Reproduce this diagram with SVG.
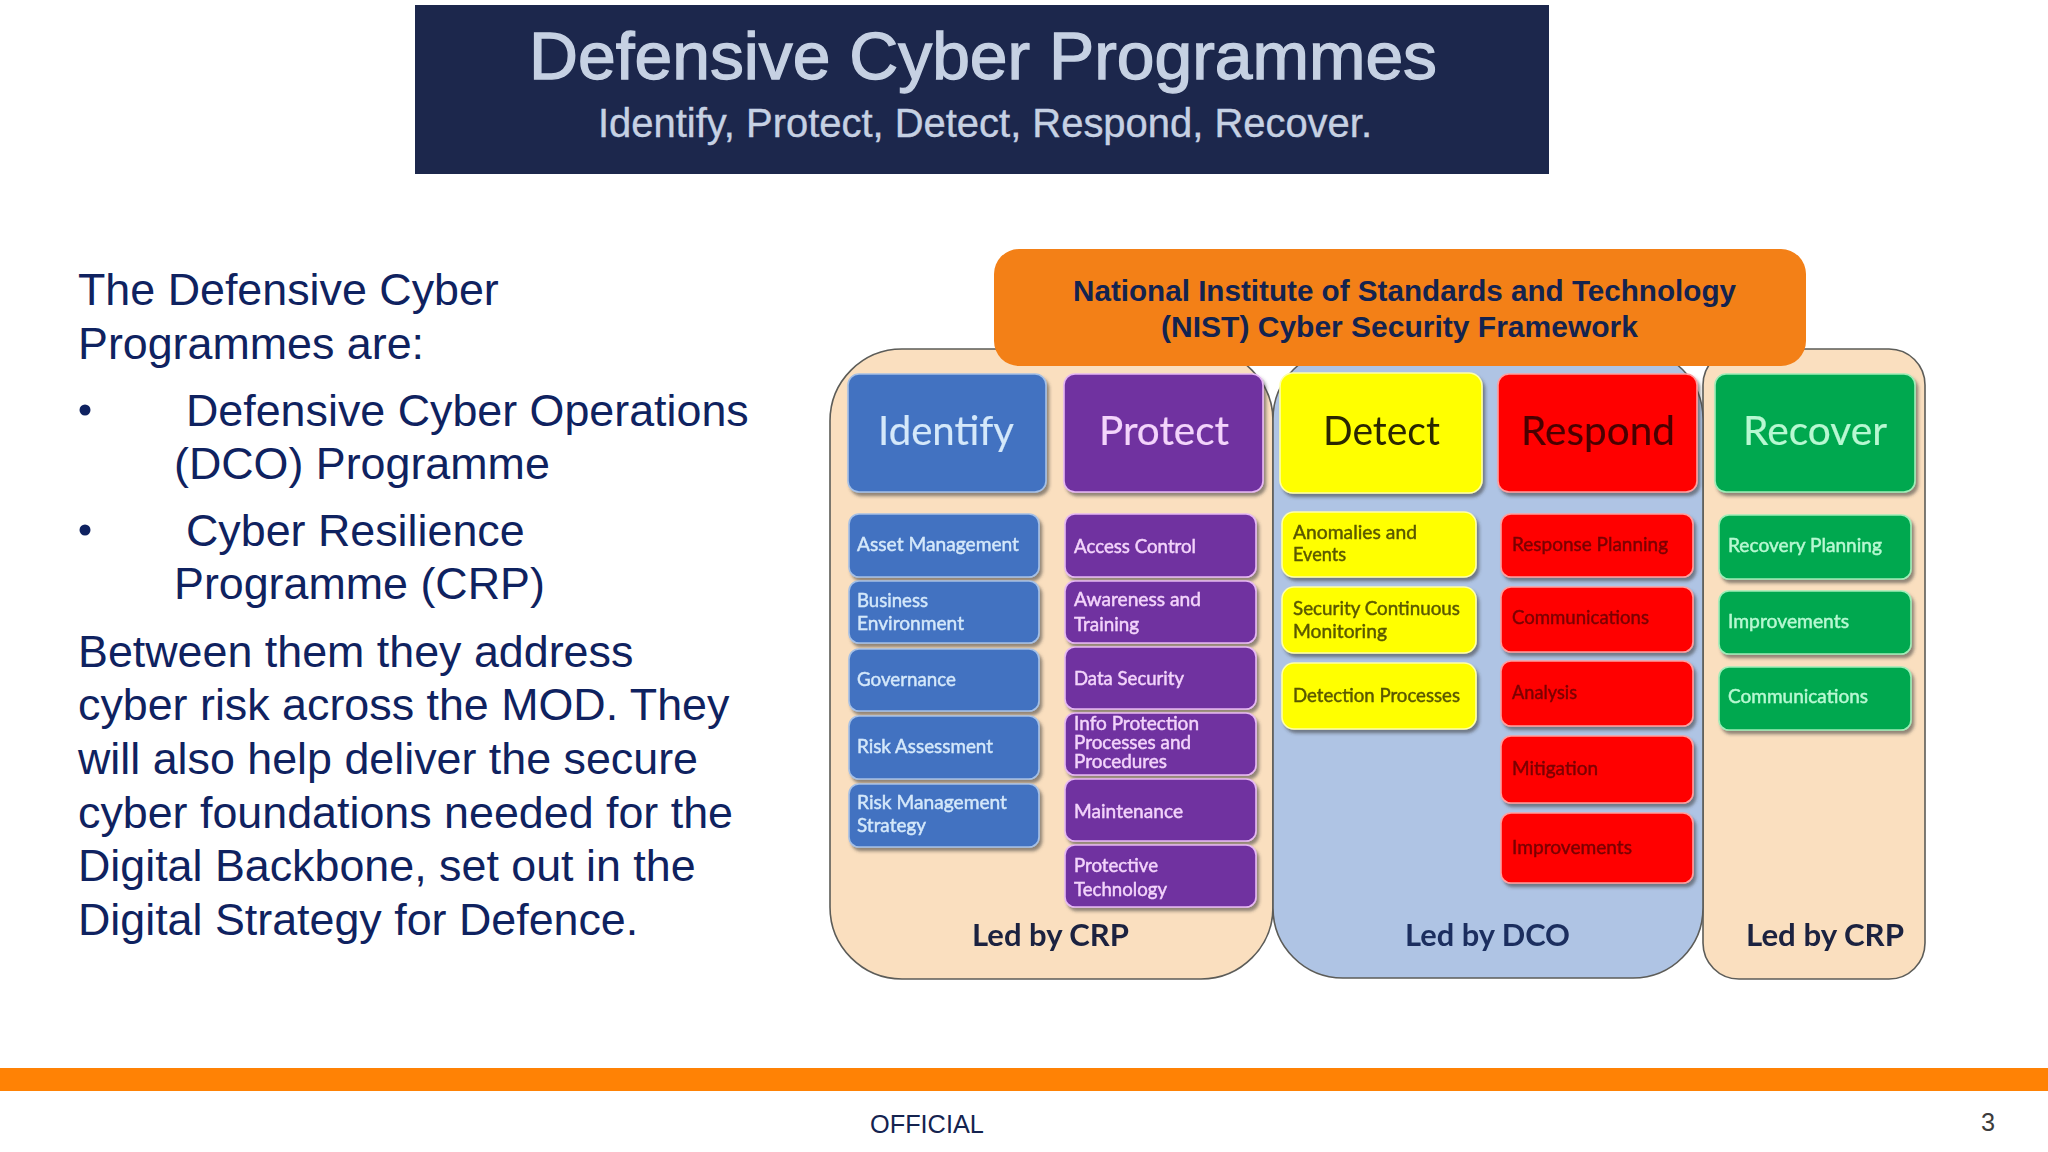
<svg xmlns="http://www.w3.org/2000/svg" width="2048" height="1152" viewBox="0 0 2048 1152">
<defs>
<filter id="sh" x="-10%" y="-10%" width="125%" height="125%"><feDropShadow dx="2.5" dy="3.5" stdDeviation="1.6" flood-color="#3a3a3a" flood-opacity="0.55"/></filter>
<filter id="soft" x="-5%" y="-20%" width="110%" height="140%"><feGaussianBlur stdDeviation="0.45"/></filter>
</defs>
<style>
.s{font-family:"Liberation Sans",Arial,sans-serif}
.body{font-size:44.8px;fill:#0F2260}
.l{font-family:Lato,"Open Sans",sans-serif;filter:url(#soft);stroke-width:0.15}
.h{font-size:40px}
.i{font-size:19px}
.led{font-size:30px;font-weight:700;fill:#1A2440}
.panel{stroke:#5C5C58;stroke-width:1.6}
.pe{fill:#FADFBF}
.bl{fill:#AFC4E4}
.box{filter:url(#sh);stroke-width:1.6}
.b .box{fill:#4272C1;stroke:#A5C0E6}.b text{fill:#D4E8FA;stroke:#D4E8FA}
.p .box{fill:#7030A0;stroke:#E6B8F4}.p text{fill:#F3D4FB;stroke:#F3D4FB}
.y .box{fill:#FFFF00;stroke:#FFFFA8}.y text{fill:#2A2800}.y .i{fill:#5A5800;stroke:#5A5800}
.r .box{fill:#FF0000;stroke:#FF9E9E}.r text{fill:#4A0000;stroke:#4A0000}.r .i{fill:#7A0000;stroke:#7A0000}
.g .box{fill:#00A84F;stroke:#9FEDB8}.g text{fill:#B8F8D2;stroke:#B8F8D2}
.i{stroke-width:0.45}
</style>
<rect width="2048" height="1152" fill="#FFFFFF"/>
<g id="banner">
<rect x="415" y="5" width="1134" height="169" fill="#1C274C"/>
<text class="s" x="529" y="79" font-size="66" fill="#C6D1E3" stroke="#C6D1E3" stroke-width="1.3" textLength="908" lengthAdjust="spacingAndGlyphs">Defensive Cyber Programmes</text>
<text class="s" x="598" y="137" font-size="40" fill="#C6D1E3" stroke="#C6D1E3" stroke-width="0.4" textLength="774" lengthAdjust="spacingAndGlyphs">Identify, Protect, Detect, Respond, Recover.</text>
</g>
<g id="intro-text" class="s body">
<text x="78" y="305">The Defensive Cyber</text>
<text x="78" y="359">Programmes are:</text>
<circle cx="85" cy="410" r="5.5" fill="#0F2260"/>
<text x="186" y="426">Defensive Cyber Operations</text>
<text x="174" y="479">(DCO) Programme</text>
<circle cx="85" cy="530" r="5.5" fill="#0F2260"/>
<text x="186" y="546">Cyber Resilience</text>
<text x="174" y="599">Programme (CRP)</text>
<text x="78" y="667">Between them they address</text>
<text x="78" y="720">cyber risk across the MOD. They</text>
<text x="78" y="774">will also help deliver the secure</text>
<text x="78" y="828">cyber foundations needed for the</text>
<text x="78" y="881">Digital Backbone, set out in the</text>
<text x="78" y="935">Digital Strategy for Defence.</text>
</g>
<g id="panel-crp-left"><rect class="panel pe" x="830" y="349" width="443" height="630" rx="72" ry="72"/></g>
<g id="panel-crp-right"><rect class="panel pe" x="1703" y="349" width="222" height="630" rx="36" ry="36"/></g>
<g id="panel-dco"><rect class="panel bl" x="1273" y="349" width="430" height="629" rx="70" ry="70"/></g>
<g id="connectors"/>
<g id="col-identify" class="b">
<g id="identify"><rect class="box" x="848" y="374" width="198" height="118" rx="11"/><text class="l h" x="878" y="445" textLength="136" lengthAdjust="spacingAndGlyphs">Identify</text></g>
<g id="asset-management"><rect class="box" x="849" y="514" width="190" height="63" rx="10"/><text class="l i" x="857" y="551" textLength="162" lengthAdjust="spacingAndGlyphs">Asset Management</text></g>
<g id="business-environment"><rect class="box" x="849" y="581" width="190" height="62" rx="10"/><text class="l i" x="857" y="607" textLength="71" lengthAdjust="spacingAndGlyphs">Business</text><text class="l i" x="857" y="630" textLength="107" lengthAdjust="spacingAndGlyphs">Environment</text></g>
<g id="governance"><rect class="box" x="849" y="649" width="190" height="62" rx="10"/><text class="l i" x="857" y="686" textLength="99" lengthAdjust="spacingAndGlyphs">Governance</text></g>
<g id="risk-assessment"><rect class="box" x="849" y="716" width="190" height="63" rx="10"/><text class="l i" x="857" y="753" textLength="136" lengthAdjust="spacingAndGlyphs">Risk Assessment</text></g>
<g id="risk-management"><rect class="box" x="849" y="784" width="190" height="63" rx="10"/><text class="l i" x="857" y="809" textLength="150" lengthAdjust="spacingAndGlyphs">Risk Management</text><text class="l i" x="857" y="832" textLength="69" lengthAdjust="spacingAndGlyphs">Strategy</text></g>
</g>
<g id="col-protect" class="p">
<g id="protect"><rect class="box" x="1064" y="374" width="199" height="118" rx="11"/><text class="l h" x="1099" y="445" textLength="130" lengthAdjust="spacingAndGlyphs">Protect</text></g>
<g id="access-control"><rect class="box" x="1065" y="514" width="191" height="63" rx="10"/><text class="l i" x="1074" y="553" textLength="122" lengthAdjust="spacingAndGlyphs">Access Control</text></g>
<g id="awareness-training"><rect class="box" x="1065" y="581" width="191" height="62" rx="10"/><text class="l i" x="1074" y="606" textLength="127" lengthAdjust="spacingAndGlyphs">Awareness and</text><text class="l i" x="1074" y="631" textLength="65" lengthAdjust="spacingAndGlyphs">Training</text></g>
<g id="data-security"><rect class="box" x="1065" y="647" width="191" height="62" rx="10"/><text class="l i" x="1074" y="685" textLength="110" lengthAdjust="spacingAndGlyphs">Data Security</text></g>
<g id="info-protection"><rect class="box" x="1065" y="713" width="191" height="62" rx="10"/><text class="l i" x="1074" y="730" textLength="125" lengthAdjust="spacingAndGlyphs">Info Protection</text><text class="l i" x="1074" y="749" textLength="117" lengthAdjust="spacingAndGlyphs">Processes and</text><text class="l i" x="1074" y="768" textLength="93" lengthAdjust="spacingAndGlyphs">Procedures</text></g>
<g id="maintenance"><rect class="box" x="1065" y="779" width="191" height="62" rx="10"/><text class="l i" x="1074" y="818" textLength="109" lengthAdjust="spacingAndGlyphs">Maintenance</text></g>
<g id="protective-technology"><rect class="box" x="1065" y="845" width="191" height="62" rx="10"/><text class="l i" x="1074" y="872" textLength="84" lengthAdjust="spacingAndGlyphs">Protective</text><text class="l i" x="1074" y="896" textLength="93" lengthAdjust="spacingAndGlyphs">Technology</text></g>
</g>
<g id="col-detect" class="y">
<g id="detect"><rect class="box" x="1280" y="373" width="202" height="120" rx="13"/><text class="l h" x="1323" y="445" textLength="117" lengthAdjust="spacingAndGlyphs">Detect</text></g>
<g id="anomalies-events"><rect class="box" x="1282" y="512" width="194" height="65" rx="12"/><text class="l i" x="1293" y="539" textLength="124" lengthAdjust="spacingAndGlyphs">Anomalies and</text><text class="l i" x="1293" y="561" textLength="53" lengthAdjust="spacingAndGlyphs">Events</text></g>
<g id="security-monitoring"><rect class="box" x="1282" y="587" width="194" height="66" rx="12"/><text class="l i" x="1293" y="615" textLength="167" lengthAdjust="spacingAndGlyphs">Security Continuous</text><text class="l i" x="1293" y="638" textLength="94" lengthAdjust="spacingAndGlyphs">Monitoring</text></g>
<g id="detection-processes"><rect class="box" x="1282" y="663" width="194" height="66" rx="12"/><text class="l i" x="1293" y="702" textLength="167" lengthAdjust="spacingAndGlyphs">Detection Processes</text></g>
</g>
<g id="col-respond" class="r">
<g id="respond"><rect class="box" x="1498" y="374" width="199" height="118" rx="11"/><text class="l h" x="1521" y="445" textLength="154" lengthAdjust="spacingAndGlyphs">Respond</text></g>
<g id="response-planning"><rect class="box" x="1501" y="514" width="192" height="63" rx="10"/><text class="l i" x="1512" y="551" textLength="156" lengthAdjust="spacingAndGlyphs">Response Planning</text></g>
<g id="communications-r"><rect class="box" x="1501" y="587" width="192" height="65" rx="10"/><text class="l i" x="1512" y="624" textLength="137" lengthAdjust="spacingAndGlyphs">Communications</text></g>
<g id="analysis"><rect class="box" x="1501" y="661" width="192" height="65" rx="10"/><text class="l i" x="1512" y="699" textLength="65" lengthAdjust="spacingAndGlyphs">Analysis</text></g>
<g id="mitigation"><rect class="box" x="1501" y="736" width="192" height="67" rx="10"/><text class="l i" x="1512" y="775" textLength="86" lengthAdjust="spacingAndGlyphs">Mitigation</text></g>
<g id="improvements-r"><rect class="box" x="1501" y="813" width="192" height="70" rx="10"/><text class="l i" x="1512" y="854" textLength="120" lengthAdjust="spacingAndGlyphs">Improvements</text></g>
</g>
<g id="col-recover" class="g">
<g id="recover"><rect class="box" x="1715" y="374" width="200" height="118" rx="11"/><text class="l h" x="1743" y="445" textLength="144" lengthAdjust="spacingAndGlyphs">Recover</text></g>
<g id="recovery-planning"><rect class="box" x="1719" y="515" width="192" height="64" rx="10"/><text class="l i" x="1728" y="552" textLength="154" lengthAdjust="spacingAndGlyphs">Recovery Planning</text></g>
<g id="improvements-g"><rect class="box" x="1719" y="591" width="192" height="63" rx="10"/><text class="l i" x="1728" y="628" textLength="121" lengthAdjust="spacingAndGlyphs">Improvements</text></g>
<g id="communications-g"><rect class="box" x="1719" y="667" width="192" height="63" rx="10"/><text class="l i" x="1728" y="703" textLength="140" lengthAdjust="spacingAndGlyphs">Communications</text></g>
</g>
<g id="leads">
<text class="l led" x="972" y="946" textLength="157" lengthAdjust="spacingAndGlyphs">Led by CRP</text>
<text class="l led" x="1405" y="946" textLength="165" lengthAdjust="spacingAndGlyphs" style="fill:#1B2F5E">Led by DCO</text>
<text class="l led" x="1746" y="946" textLength="158" lengthAdjust="spacingAndGlyphs">Led by CRP</text>
</g>
<g id="nist">
<rect x="994" y="249" width="812" height="117" rx="25" fill="#F38017"/>
<text class="s" x="1404.5" y="301" text-anchor="middle" font-size="30" font-weight="700" fill="#14234F" textLength="663" lengthAdjust="spacingAndGlyphs">National Institute of Standards and Technology</text>
<text class="s" x="1399.5" y="337" text-anchor="middle" font-size="30" font-weight="700" fill="#14234F">(NIST) Cyber Security Framework</text>
</g>
<g id="footer">
<rect x="0" y="1068" width="2048" height="23" fill="#FF8205"/>
<text class="s" x="870" y="1133" font-size="25.3" fill="#14234F">OFFICIAL</text>
<text class="s" x="1981" y="1131" font-size="25.3" fill="#3C3C3C">3</text>
</g>
</svg>
